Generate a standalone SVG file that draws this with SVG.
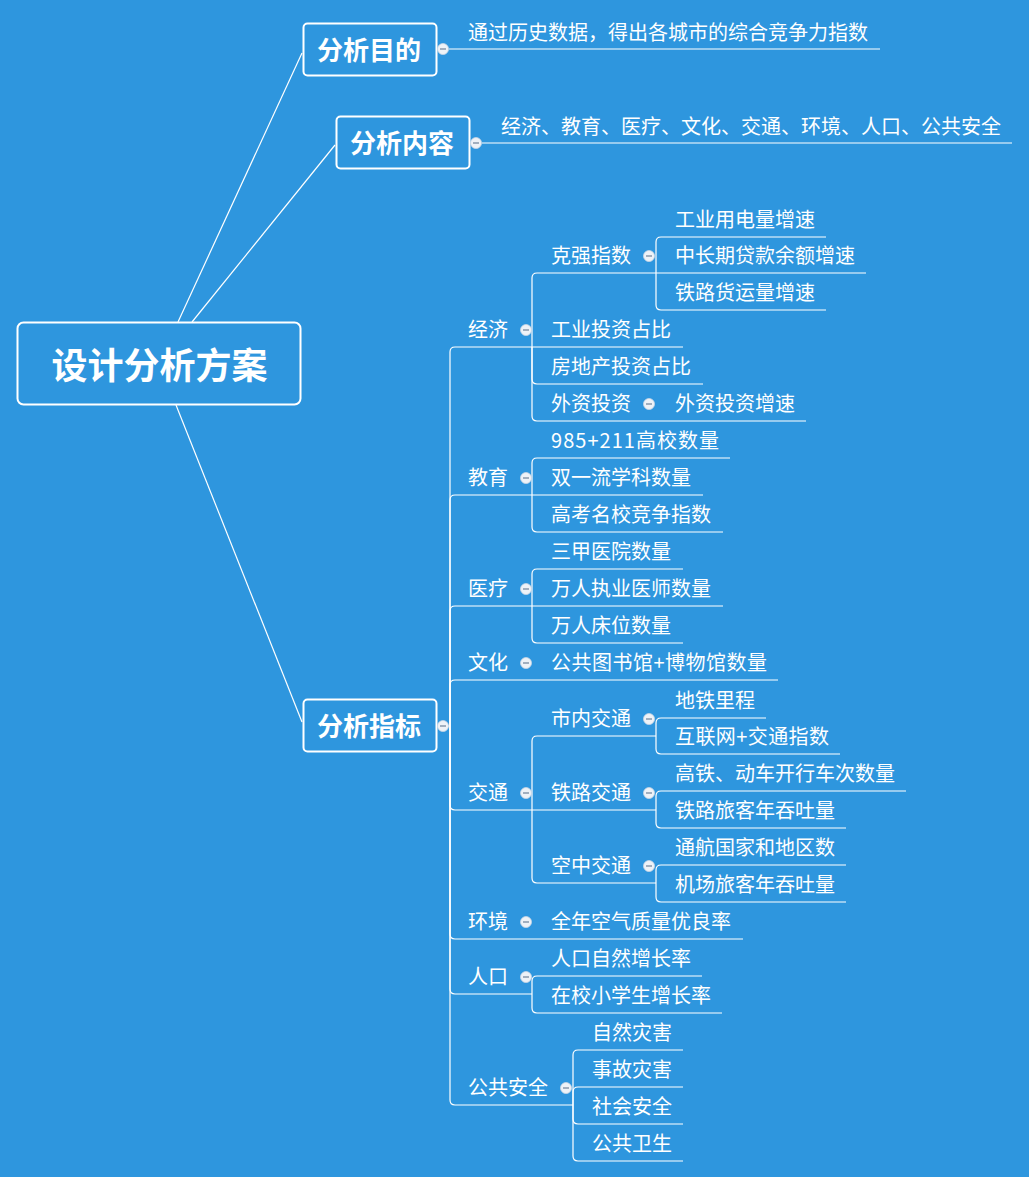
<svg xmlns="http://www.w3.org/2000/svg" xmlns:xlink="http://www.w3.org/1999/xlink" width="1029" height="1177" viewBox="0 0 1029 1177">
<style>
.t{font-family:"Noto Sans CJK SC","Liberation Sans",sans-serif;font-size:20px;fill:#ffffff}
.m{font-family:"Noto Sans CJK SC","Liberation Sans",sans-serif;font-size:26px;font-weight:bold;fill:#ffffff;text-anchor:middle}
.r{font-family:"Noto Sans CJK SC","Liberation Sans",sans-serif;font-size:36px;font-weight:bold;fill:#ffffff;text-anchor:middle}
.box{fill:#2e96de;stroke:#ffffff;stroke-width:2}
.c{fill:none;stroke:#ffffff;stroke-width:1.2}
</style>
<defs>
<g id="col">
<circle cx="0" cy="0" r="5.5" fill="#eef2f7" stroke="#c9d6e4" stroke-width="0.8"/>
<line x1="-3" y1="0" x2="3" y2="0" stroke="#6f8299" stroke-width="1.2"/>
</g>
</defs>
<rect width="1029" height="1177" fill="#2e96de"/>
<g id="connectors" class="c">
<path d="M178 322 L302 53"/>
<path d="M192 322 L335 145"/>
<path d="M176 405 L302 722"/>
<path d="M449 49 H880"/>
<path d="M482 143 H1012"/>
<path d="M443 726 H450"/>
<path d="M450 726 V352 Q450 347 455 347 H532"/>
<path d="M450 726 V500 Q450 495 455 495 H532"/>
<path d="M450 726 V611 Q450 606 455 606 H532"/>
<path d="M450 726 V685 Q450 680 455 680 H532"/>
<path d="M450 726 V805 Q450 810 455 810 H532"/>
<path d="M450 726 V934 Q450 939 455 939 H532"/>
<path d="M450 726 V989 Q450 994 455 994 H532"/>
<path d="M450 726 V1100 Q450 1105 455 1105 H573"/>
<path d="M532 347 V278 Q532 273 537 273 H656"/>
<path d="M532 347 H683"/>
<path d="M532 347 V379 Q532 384 537 384 H703"/>
<path d="M532 347 V416 Q532 421 537 421 H656"/>
<path d="M656 273 V242 Q656 237 661 237 H826"/>
<path d="M656 273 H866"/>
<path d="M656 273 V305 Q656 310 661 310 H826"/>
<path d="M656 421 H806"/>
<path d="M532 495 V463 Q532 458 537 458 H730"/>
<path d="M532 495 H703"/>
<path d="M532 495 V527 Q532 532 537 532 H723"/>
<path d="M532 606 V574 Q532 569 537 569 H683"/>
<path d="M532 606 H723"/>
<path d="M532 606 V638 Q532 643 537 643 H683"/>
<path d="M532 680 H778"/>
<path d="M532 810 V741 Q532 736 537 736 H656"/>
<path d="M532 810 H656"/>
<path d="M532 810 V878 Q532 883 537 883 H656"/>
<path d="M656 736 V723 Q656 718 661 718 H766"/>
<path d="M656 736 V749 Q656 754 661 754 H840"/>
<path d="M656 810 V796 Q656 791 661 791 H906"/>
<path d="M656 810 V823 Q656 828 661 828 H846"/>
<path d="M656 883 V870 Q656 865 661 865 H846"/>
<path d="M656 883 V897 Q656 902 661 902 H846"/>
<path d="M532 939 H743"/>
<path d="M532 994 V981 Q532 976 537 976 H702"/>
<path d="M532 994 V1008 Q532 1013 537 1013 H722"/>
<path d="M573 1105 V1055 Q573 1050 578 1050 H683"/>
<path d="M573 1105 V1092 Q573 1087 578 1087 H683"/>
<path d="M573 1105 V1119 Q573 1124 578 1124 H683"/>
<path d="M573 1105 V1156 Q573 1161 578 1161 H683"/>
</g>
<g id="root"><rect class="box" x="17.5" y="322.5" width="283" height="82" rx="6" stroke-width="3"/><text class="r" x="159.5" y="379">设计分析方案</text></g>
<g id="n-mudi"><rect class="box" x="303.5" y="23.5" width="133" height="52" rx="4"/><text class="m" x="369" y="60">分析目的</text><use xlink:href="#col" x="443" y="49"/></g>
<g id="n-mudi-1"><text class="t" x="468" y="40">通过历史数据，得出各城市的综合竞争力指数</text></g>
<g id="n-neirong"><rect class="box" x="336.5" y="116.5" width="133" height="52" rx="4"/><text class="m" x="402" y="153">分析内容</text><use xlink:href="#col" x="476" y="143"/></g>
<g id="n-neirong-1"><text class="t" x="501" y="133.5">经济、教育、医疗、文化、交通、环境、人口、公共安全</text></g>
<g id="n-zhibiao"><rect class="box" x="303.5" y="699.5" width="133" height="52" rx="4"/><text class="m" x="369" y="736">分析指标</text><use xlink:href="#col" x="443" y="726"/></g>
<g id="n-jingji"><text class="t" x="468" y="337">经济</text><use xlink:href="#col" x="526" y="330"/></g>
<g id="n-keqiang"><text class="t" x="551" y="263">克强指数</text><use xlink:href="#col" x="649" y="256"/></g>
<g id="n-kq1"><text class="t" x="675" y="227">工业用电量增速</text></g>
<g id="n-kq2"><text class="t" x="675" y="263">中长期贷款余额增速</text></g>
<g id="n-kq3"><text class="t" x="675" y="300">铁路货运量增速</text></g>
<g id="n-jj2"><text class="t" x="551" y="337">工业投资占比</text></g>
<g id="n-jj3"><text class="t" x="551" y="374">房地产投资占比</text></g>
<g id="n-waizi"><text class="t" x="551" y="411">外资投资</text><use xlink:href="#col" x="649" y="404"/></g>
<g id="n-wz1"><text class="t" x="675" y="411">外资投资增速</text></g>
<g id="n-jiaoyu"><text class="t" x="468" y="485">教育</text><use xlink:href="#col" x="526" y="478"/></g>
<g id="n-jy1"><text class="t" x="551" y="448" textLength="168" lengthAdjust="spacing">985+211高校数量</text></g>
<g id="n-jy2"><text class="t" x="551" y="485">双一流学科数量</text></g>
<g id="n-jy3"><text class="t" x="551" y="522">高考名校竞争指数</text></g>
<g id="n-yiliao"><text class="t" x="468" y="596">医疗</text><use xlink:href="#col" x="526" y="589"/></g>
<g id="n-yl1"><text class="t" x="551" y="559">三甲医院数量</text></g>
<g id="n-yl2"><text class="t" x="551" y="596">万人执业医师数量</text></g>
<g id="n-yl3"><text class="t" x="551" y="633">万人床位数量</text></g>
<g id="n-wenhua"><text class="t" x="468" y="670">文化</text><use xlink:href="#col" x="526" y="663"/></g>
<g id="n-wh1"><text class="t" x="551" y="670" textLength="216" lengthAdjust="spacing">公共图书馆+博物馆数量</text></g>
<g id="n-jiaotong"><text class="t" x="468" y="800">交通</text><use xlink:href="#col" x="526" y="793"/></g>
<g id="n-shinei"><text class="t" x="551" y="726">市内交通</text><use xlink:href="#col" x="649" y="719"/></g>
<g id="n-sn1"><text class="t" x="675" y="708">地铁里程</text></g>
<g id="n-sn2"><text class="t" x="675" y="744" textLength="154" lengthAdjust="spacing">互联网+交通指数</text></g>
<g id="n-tielu"><text class="t" x="551" y="800">铁路交通</text><use xlink:href="#col" x="649" y="793"/></g>
<g id="n-tl1"><text class="t" x="675" y="781">高铁、动车开行车次数量</text></g>
<g id="n-tl2"><text class="t" x="675" y="818">铁路旅客年吞吐量</text></g>
<g id="n-kongzhong"><text class="t" x="551" y="873">空中交通</text><use xlink:href="#col" x="649" y="866"/></g>
<g id="n-kz1"><text class="t" x="675" y="855">通航国家和地区数</text></g>
<g id="n-kz2"><text class="t" x="675" y="892">机场旅客年吞吐量</text></g>
<g id="n-huanjing"><text class="t" x="468" y="929">环境</text><use xlink:href="#col" x="526" y="922"/></g>
<g id="n-hj1"><text class="t" x="551" y="929">全年空气质量优良率</text></g>
<g id="n-renkou"><text class="t" x="468" y="984">人口</text><use xlink:href="#col" x="526" y="977"/></g>
<g id="n-rk1"><text class="t" x="551" y="966">人口自然增长率</text></g>
<g id="n-rk2"><text class="t" x="551" y="1003">在校小学生增长率</text></g>
<g id="n-anquan"><text class="t" x="468" y="1095">公共安全</text><use xlink:href="#col" x="566" y="1088"/></g>
<g id="n-aq1"><text class="t" x="592" y="1040">自然灾害</text></g>
<g id="n-aq2"><text class="t" x="592" y="1077">事故灾害</text></g>
<g id="n-aq3"><text class="t" x="592" y="1114">社会安全</text></g>
<g id="n-aq4"><text class="t" x="592" y="1151">公共卫生</text></g>
</svg>
